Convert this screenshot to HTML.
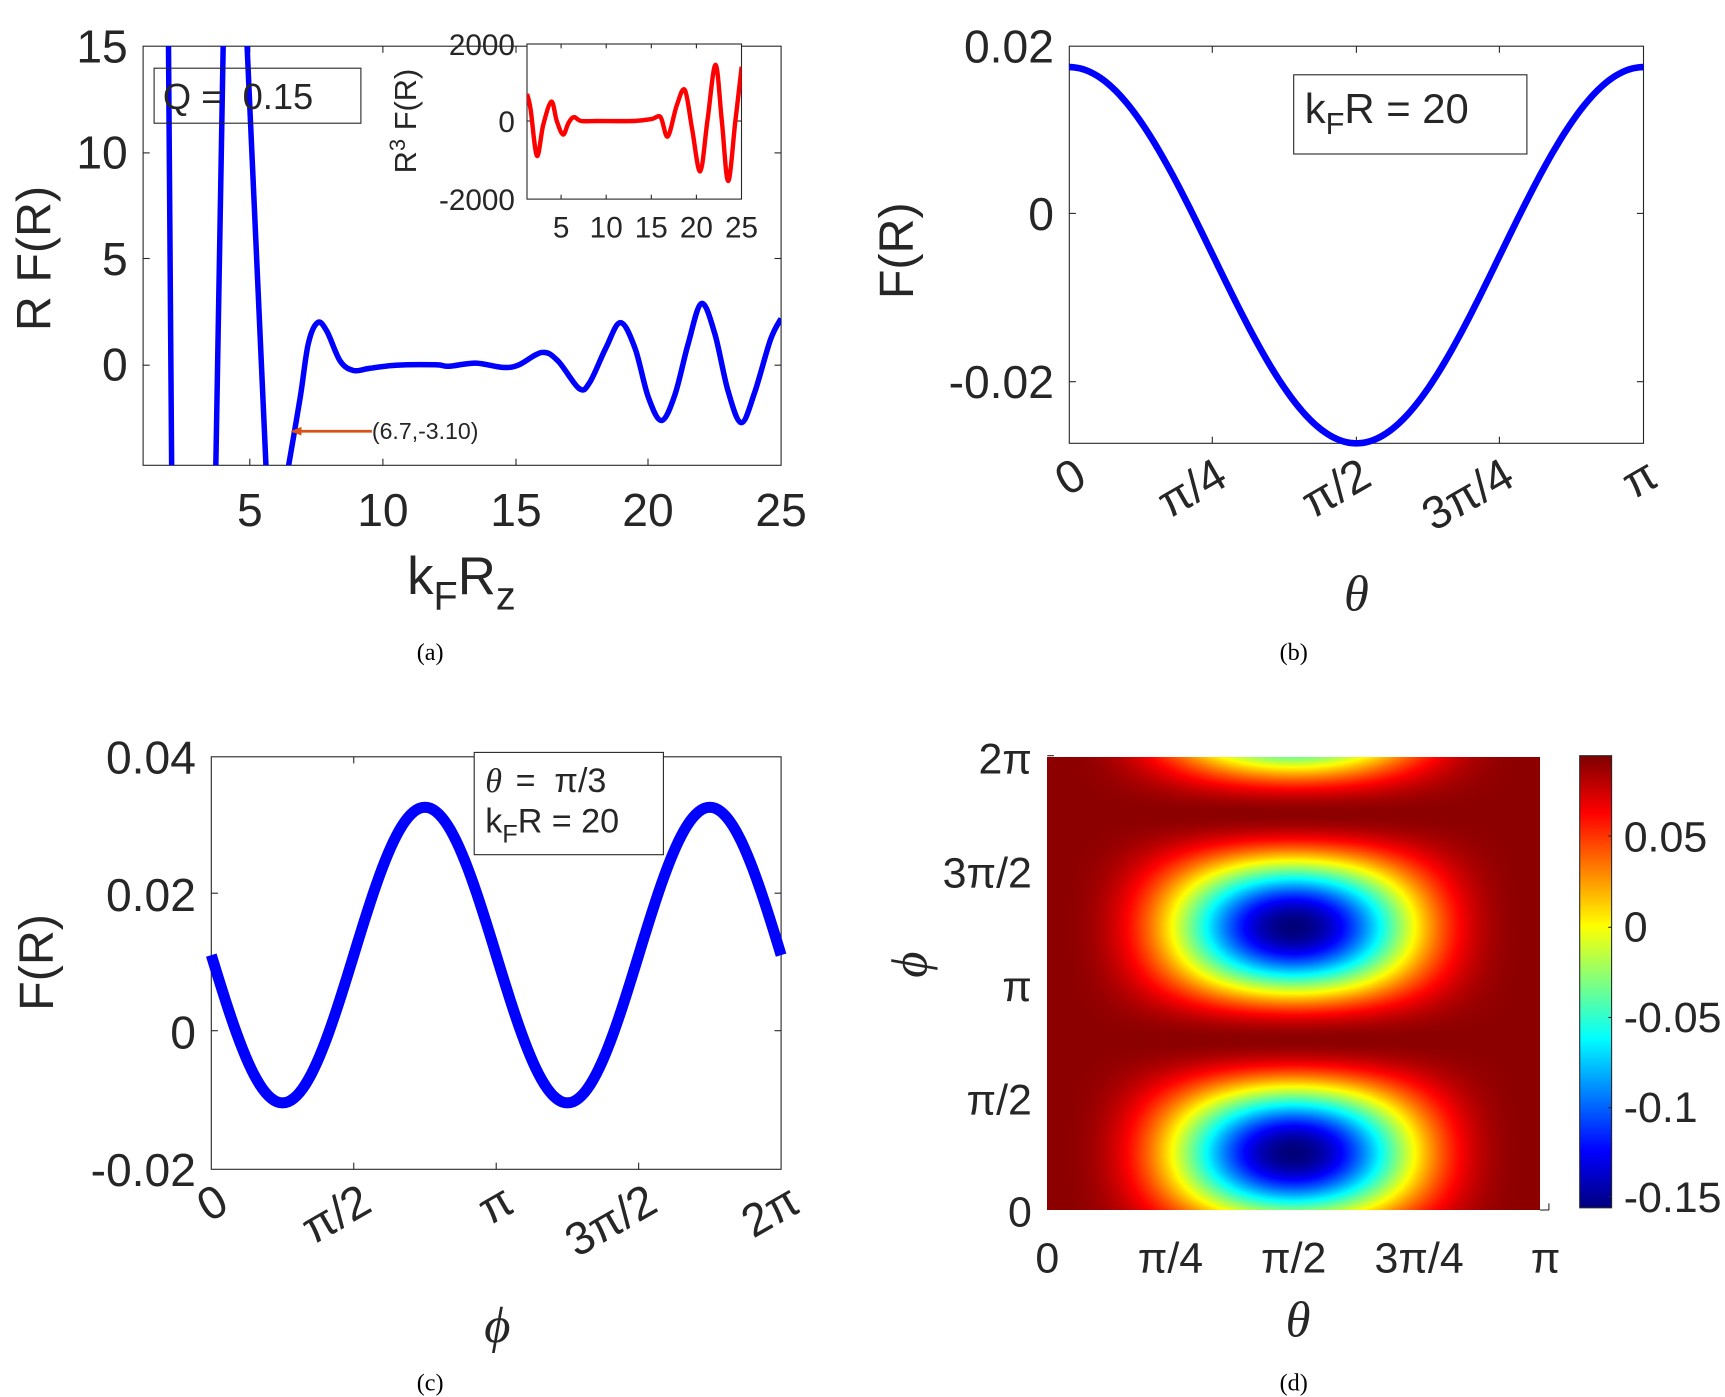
<!DOCTYPE html>
<html><head><meta charset="utf-8"><style>
html,body{margin:0;padding:0;background:#fff;}
#wrap{position:relative;width:1725px;height:1397px;overflow:hidden;}
canvas{position:absolute;}
svg{position:absolute;left:0;top:0;}
.t{font-family:"Liberation Sans",sans-serif;fill:#262626;}
.cap{font-family:"Liberation Serif",serif;font-size:22px;fill:#000;}
.m{font-family:"Liberation Serif",serif;font-style:italic;fill:#262626;}
</style></head><body>
<div id="wrap">
<canvas id="hm" style="left:1047px;top:757px;width:493px;height:453px" width="493" height="453"></canvas>
<canvas id="cb" style="left:1580px;top:756px;width:32px;height:452px" width="32" height="452"></canvas>
<svg id="s" width="1725" height="1397" viewBox="0 0 1568 1270">
<defs>
<clipPath id="ca"><rect x="130" y="42" width="580" height="381"/></clipPath>
<clipPath id="ci"><rect x="479" y="40" width="195" height="141"/></clipPath>
<marker id="ah" markerWidth="10" markerHeight="8" refX="8" refY="4" orient="auto" markerUnits="userSpaceOnUse"><path d="M0,0 L10,4 L0,8 z" fill="#d95319"/></marker>
</defs>
<g id="g"></g>
<g class="t" font-size="42" text-anchor="end">
<text x="116" y="57">15</text><text x="116" y="153">10</text><text x="116" y="250">5</text><text x="116" y="346">0</text>
</g>
<g class="t" font-size="42" text-anchor="middle">
<text x="227" y="478">5</text><text x="348" y="478">10</text><text x="469" y="478">15</text><text x="589" y="478">20</text><text x="710" y="478">25</text>
</g>
<text class="t" font-size="44" transform="translate(46,235) rotate(-90)" text-anchor="middle">R F(R)</text>
<text class="t" font-size="48" x="370" y="540">k<tspan font-size="36" dy="14">F</tspan><tspan dy="-14">R</tspan><tspan font-size="36" dy="14">z</tspan></text>
<rect x="140" y="62" width="188" height="50" fill="none" stroke="#262626" stroke-width="1"/>
<text class="t" font-size="33" x="148" y="99" fill="#000" xml:space="preserve">Q =  0.15</text>
<line x1="338" y1="392" x2="266" y2="392" stroke="#d95319" stroke-width="2.5" marker-end="url(#ah)"/>
<text class="t" font-size="21" x="338" y="399" fill="#000">(6.7,-3.10)</text>
<g class="t" font-size="27" text-anchor="end">
<text x="468" y="50">2000</text><text x="468" y="120">0</text><text x="468" y="191">-2000</text>
</g>
<g class="t" font-size="27" text-anchor="middle">
<text x="510" y="216">5</text><text x="551" y="216">10</text><text x="592" y="216">15</text><text x="633" y="216">20</text><text x="674" y="216">25</text>
</g>
<text class="t" font-size="28" transform="translate(378,110) rotate(-90)" text-anchor="middle">R<tspan font-size="20" dy="-10">3</tspan><tspan dy="10"> F(R)</tspan></text>
<g class="t" font-size="42" text-anchor="end">
<text x="958" y="57">0.02</text><text x="958" y="209">0</text><text x="958" y="362">-0.02</text>
</g>
<g class="t" font-size="42" text-anchor="end">
<text transform="translate(990,440) rotate(-30)">0</text>
<text transform="translate(1118,440) rotate(-30)">π/4</text>
<text transform="translate(1249,440) rotate(-30)">π/2</text>
<text transform="translate(1379,440) rotate(-30)">3π/4</text>
<text transform="translate(1510,440) rotate(-30)">π</text>
</g>
<text class="t" font-size="44" transform="translate(830,228) rotate(-90)" text-anchor="middle">F(R)</text>
<text class="m" font-size="46" x="1233" y="555" text-anchor="middle">θ</text>
<rect x="1176" y="68" width="212" height="72" fill="#fff" stroke="#262626" stroke-width="1"/>
<text class="t" font-size="38" x="1186" y="112" fill="#000">k<tspan font-size="28" dy="10">F</tspan><tspan dy="-10">R = 20</tspan></text>
<g class="t" font-size="42" text-anchor="end">
<text x="178" y="703">0.04</text><text x="178" y="828">0.02</text><text x="178" y="953">0</text><text x="178" y="1078">-0.02</text>
</g>
<g class="t" font-size="42" text-anchor="end">
<text transform="translate(210,1100) rotate(-30)">0</text>
<text transform="translate(340,1100) rotate(-30)">π/2</text>
<text transform="translate(470,1100) rotate(-30)">π</text>
<text transform="translate(600,1100) rotate(-30)">3π/2</text>
<text transform="translate(730,1100) rotate(-30)">2π</text>
</g>
<text class="t" font-size="44" transform="translate(48,875) rotate(-90)" text-anchor="middle">F(R)</text>
<text class="m" font-size="46" x="452" y="1220" text-anchor="middle">ϕ</text>
<rect x="431" y="684" width="172" height="93" fill="#fff" stroke="#262626" stroke-width="1"/>
<text class="m" font-size="31" x="441" y="720" fill="#000">θ</text><text class="t" font-size="31" x="460" y="720" fill="#000" xml:space="preserve"> =  π/3</text>
<text class="t" font-size="31" x="441" y="757" fill="#000">k<tspan font-size="23" dy="9">F</tspan><tspan dy="-9">R = 20</tspan></text>
<g class="t" font-size="39" text-anchor="end">
<text x="938" y="703">2π</text><text x="938" y="807">3π/2</text><text x="938" y="910">π</text><text x="938" y="1013">π/2</text><text x="938" y="1115">0</text>
</g>
<g class="t" font-size="39" text-anchor="middle">
<text x="952" y="1157">0</text><text x="1064" y="1157">π/4</text><text x="1176" y="1157">π/2</text><text x="1290" y="1157">3π/4</text><text x="1405" y="1157">π</text>
</g>
<g class="t" font-size="39">
<text x="1476" y="774">0.05</text><text x="1476" y="856">0</text><text x="1476" y="938">-0.05</text><text x="1476" y="1020">-0.1</text><text x="1476" y="1102">-0.15</text>
</g>
<text class="m" font-size="46" transform="translate(842,877) rotate(-90)" text-anchor="middle">ϕ</text>
<text class="m" font-size="46" x="1180" y="1215" text-anchor="middle">θ</text>
<text class="cap" x="391" y="600" text-anchor="middle">(a)</text>
<text class="cap" x="1176" y="600" text-anchor="middle">(b)</text>
<text class="cap" x="391" y="1264" text-anchor="middle">(c)</text>
<text class="cap" x="1176" y="1264" text-anchor="middle">(d)</text>
</svg>
</div>
<script>
var NS="http://www.w3.org/2000/svg",G=document.getElementById('g');
function el(t,a){var e=document.createElementNS(NS,t);for(var k in a)e.setAttribute(k,a[k]);G.appendChild(e);return e;}
function cr(p){var d="M"+p[0][0]+","+p[0][1];for(var i=0;i<p.length-1;i++){var p0=p[i-1]||p[i],p1=p[i],p2=p[i+1],p3=p[i+2]||p2;
d+=" C"+(p1[0]+(p2[0]-p0[0])/6)+","+(p1[1]+(p2[1]-p0[1])/6)+" "+(p2[0]-(p3[0]-p1[0])/6)+","+(p2[1]-(p3[1]-p1[1])/6)+" "+p2[0]+","+p2[1];}return d;}
function box(x0,y0,x1,y1,xt,yt,L){el('rect',{x:x0,y:y0,width:x1-x0,height:y1-y0,fill:'#fff',stroke:'#262626','stroke-width':1});
xt.forEach(function(x){el('line',{x1:x,y1:y1,x2:x,y2:y1-L,stroke:'#262626'});el('line',{x1:x,y1:y0,x2:x,y2:y0+L,stroke:'#262626'});});
yt.forEach(function(y){el('line',{x1:x0,y1:y,x2:x0+L,y2:y,stroke:'#262626'});el('line',{x1:x1,y1:y,x2:x1-L,y2:y,stroke:'#262626'});});}
box(130,42,710,423,[227,348,469,589],[139,235,332],6);
var ax=function(x){return 130.4+(x-1)*24.15},ay=function(y){return 332-y*19.33};
var pa=[[6.45,-4.8],[6.9,-1.5],[7.2,1.0],[7.55,2.0],[7.9,1.6],[8.4,0.2],[8.9,-0.25],[9.5,-0.15],[10.5,0],[12,0.02],[12.5,-0.05],[13.5,0.1],[14.5,-0.1],[15.1,0],[16.0,0.6],[16.6,0.2],[17.4,-1.1],[17.8,-0.8],[18.4,0.8],[18.95,2.0],[19.5,0.8],[20.0,-1.5],[20.5,-2.6],[21.0,-1.4],[21.5,1.0],[22.0,2.9],[22.5,1.5],[23.0,-1.2],[23.5,-2.7],[24.0,-1.3],[24.6,1.2],[25,2.2]].map(function(p){return[ax(p[0]),ay(p[1])]});
var ga=el('g',{'clip-path':'url(#ca)'});
function add(g,t,a){var e=document.createElementNS(NS,t);for(var k in a)e.setAttribute(k,a[k]);g.appendChild(e);}
add(ga,'path',{d:"M153,30 L156,430 M196,430 L203,30 M224,30 L242,430 "+cr(pa),fill:'none',stroke:'#0000ff','stroke-width':5,'stroke-linejoin':'round'});
box(479,40,674,181,[510,551,592,633],[110],4);
var ix=function(x){return 479+(x-1.2)*8.2},iy=function(y){return 110-y*0.0352};
var pi=[[1.2,700],[1.6,300],[2.3,-900],[3.0,-100],[3.9,500],[4.5,0],[5.2,-350],[5.8,-50],[6.4,100],[7.2,0],[9,0],[13,0],[15,50],[16.0,100],[16.8,-400],[17.8,400],[18.7,800],[19.5,-200],[20.4,-1300],[21.2,0],[22.1,1450],[22.8,0],[23.5,-1550],[24.3,0],[25,1400]].map(function(p){return[ix(p[0]),iy(p[1])]});
var gi=el('g',{'clip-path':'url(#ci)'});
add(gi,'path',{d:cr(pi),fill:'none',stroke:'#ff0000','stroke-width':4,'stroke-linejoin':'round'});
box(972,42,1494,403,[1102,1233,1363],[194,347],6);
var d="";for(var i=0;i<=200;i++){var t=Math.PI*i/200,f=-0.005+0.0225*Math.cos(2*t);d+=(i?"L":"M")+(972+522*i/200)+","+(194-f*7600);}
el('path',{d:d,fill:'none',stroke:'#0000ff','stroke-width':6});
box(192,688,710,1063,[321.5,451,580.5],[812,937],6);
d="";for(i=0;i<=200;i++){var p=2*Math.PI*i/200,f2=0.011+0.0215*Math.cos(2*(p-3*Math.PI/4));d+=(i?"L":"M")+(192+518*i/200)+","+(937-f2*6250);}
el('path',{d:d,fill:'none',stroke:'#0000ff','stroke-width':10});
el('line',{x1:1400,y1:1100,x2:1408,y2:1100,stroke:'#262626'});
el('line',{x1:1408,y1:1094,x2:1408,y2:1100,stroke:'#262626'});
el('line',{x1:952,y1:687,x2:958,y2:687,stroke:'#262626'});
el('rect',{x:1436,y:687,width:29,height:411,fill:'none',stroke:'#262626'});
[760,843,925,1007,1088].forEach(function(y){el('line',{x1:1462,y1:y,x2:1465,y2:y,stroke:'#262626'});});
function jet(v){function c(x){return Math.max(0,Math.min(1,x));}
return [c(1.5-Math.abs(4*v-3)),c(1.5-Math.abs(4*v-2)),c(1.5-Math.abs(4*v-1))].map(function(x){return Math.round(x*255)});}
var vmin=-0.158,vmax=0.093;
var cv=document.getElementById('hm'),cx=cv.getContext('2d'),W=cv.width,H=cv.height,im=cx.createImageData(W,H);
for(var y=0;y<H;y++){var ph=2*Math.PI*(1-y/(H-1));for(var x=0;x<W;x++){var th=Math.PI*x/(W-1),s=Math.sin(th);
var v=0.09-0.125*s*s*s*(1+Math.sin(2*ph));var c=jet((v-vmin)/(vmax-vmin));var k=4*(y*W+x);im.data[k]=c[0];im.data[k+1]=c[1];im.data[k+2]=c[2];im.data[k+3]=255;}}
cx.putImageData(im,0,0);
var cb=document.getElementById('cb'),cc=cb.getContext('2d');
for(y=0;y<cb.height;y++){var c2=jet(1-y/(cb.height-1));cc.fillStyle="rgb("+c2+")";cc.fillRect(0,y,cb.width,1);}
</script>
</body></html>
